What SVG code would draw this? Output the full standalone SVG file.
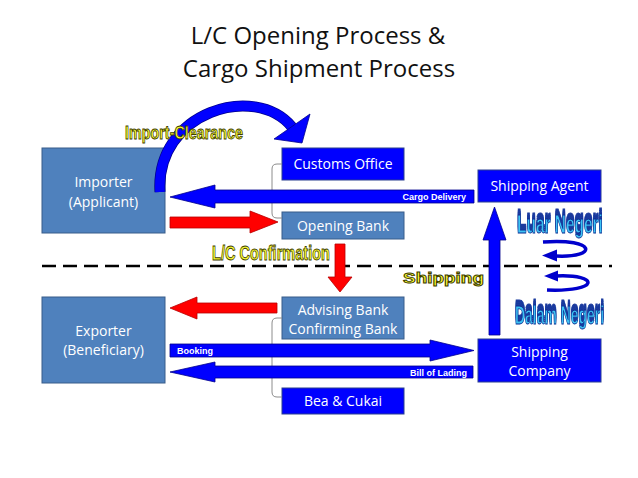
<svg xmlns="http://www.w3.org/2000/svg" width="638" height="478" viewBox="0 0 638 478">
<defs>
<style>
.title{font-family:"Open Sans","Liberation Sans",sans-serif;font-size:24px;fill:#111;text-anchor:middle}
.sb{fill:#4F81BD;stroke:#385D8A;stroke-width:1}
.bb{fill:#0000FF;stroke:#2a3f8f;stroke-width:1}
.lbl{font-family:"Open Sans","Liberation Sans",sans-serif;font-size:14px;fill:#fff;text-anchor:middle}
.ra{fill:#FF0000;stroke:#B80000;stroke-width:0.8}
.ba{fill:#0000FF;stroke:#00008B;stroke-width:0.8}
.sm{font-family:"Liberation Sans",Arial,sans-serif;font-weight:bold;font-size:9px;fill:#fff}
.wa{font-family:"Liberation Sans",Arial,sans-serif;font-weight:bold;font-style:normal;fill:#FFFF33;stroke:#3d3d00;stroke-width:0.9}
.wb{font-family:"Liberation Sans",Arial,sans-serif;font-weight:bold;font-style:normal;font-size:26px;fill:#3ec3f3;stroke:#0a2a90;stroke-width:0.8}
.brk{fill:none;stroke:#8c8c8c;stroke-width:1}
.uturn{fill:none;stroke:#0000CC;stroke-width:3.5}
</style>
<filter id="extr" x="-20%" y="-100%" width="140%" height="300%">
<feFlood flood-color="#1b3a9e" result="c"/>
<feComposite in="c" in2="SourceAlpha" operator="in" result="s"/>
<feOffset in="s" dx="0" dy="-2" result="o1"/>
<feOffset in="s" dx="0" dy="-4" result="o2"/>
<feOffset in="s" dx="0" dy="-6" result="o3"/>
<feMerge><feMergeNode in="o3"/><feMergeNode in="o2"/><feMergeNode in="o1"/><feMergeNode in="SourceGraphic"/></feMerge>
</filter>
</defs>
<rect width="638" height="478" fill="#ffffff"/>

<g id="title">
<text class="title" x="318" y="44">L/C Opening Process &amp;</text>
<text class="title" x="319" y="77">Cargo Shipment Process</text>
</g>

<line id="border-line" x1="42" y1="266" x2="612" y2="266" stroke="#000" stroke-width="2.5" stroke-dasharray="14 7"/>

<g id="importer">
<rect class="sb" x="42" y="148" width="123" height="85"/>
<text class="lbl" x="103.5" y="187">Importer</text>
<text class="lbl" x="103.5" y="207">(Applicant)</text>
</g>

<g id="exporter">
<rect class="sb" x="42" y="297" width="123" height="86"/>
<text class="lbl" x="103.5" y="336">Exporter</text>
<text class="lbl" x="103.5" y="355">(Beneficiary)</text>
</g>

<g id="customs-office">
<rect class="bb" x="282" y="148" width="122" height="32"/>
<text class="lbl" x="343" y="169">Customs Office</text>
</g>

<g id="opening-bank">
<rect class="sb" x="282" y="212" width="122" height="27"/>
<text class="lbl" x="343" y="231">Opening Bank</text>
</g>

<g id="advising-bank">
<rect class="sb" x="282" y="297" width="122" height="42"/>
<text class="lbl" x="343" y="315">Advising Bank</text>
<text class="lbl" x="343" y="334">Confirming Bank</text>
</g>

<g id="bea-cukai">
<rect class="bb" x="282" y="388" width="122" height="26"/>
<text class="lbl" x="343" y="406">Bea &amp; Cukai</text>
</g>

<g id="shipping-agent">
<rect class="bb" x="478" y="170" width="123" height="32"/>
<text class="lbl" x="539.5" y="191">Shipping Agent</text>
</g>

<g id="shipping-company">
<rect class="bb" x="478" y="339" width="123" height="43"/>
<text class="lbl" x="539.5" y="357">Shipping</text>
<text class="lbl" x="539.5" y="376">Company</text>
</g>

<g id="connectors">
<path class="brk" d="M282,164 H277 Q272,164 272,169 V213 Q272,218 277,218 H282"/>
<path class="brk" d="M282,318 H277 Q272,318 272,323 V392 Q272,397 277,397 H282"/>

<path d="M160,192 C155,112 255,82 292,127" fill="none" stroke="#00008B" stroke-width="11"/>
<path d="M160,192 C155,112 255,82 292,127" fill="none" stroke="#0000FF" stroke-width="9.5"/>
<polygon class="ba" points="310,114 302,143 274,139"/>

<polygon class="ba" points="170,197 215,185 215,190 474,190 474,203 215,203 215,208"/>
<text class="sm" x="466" y="200" text-anchor="end">Cargo Delivery</text>

<polygon class="ra" points="170,217 250,217 250,211 278,222 250,233 250,228 170,228"/>

<polygon class="ra" points="335,244 345,244 345,277 352,277 340,292 328,277 335,277"/>

<polygon class="ra" points="170,308 197,297 197,303 277,303 277,313 197,313 197,319"/>

<polygon class="ba" points="170,344 430,344 430,340 474,350.5 430,361 430,357 170,357"/>
<text class="sm" x="177" y="354">Booking</text>

<polygon class="ba" points="170,372 215,362 215,366 473,366 473,378 215,378 215,382"/>
<text class="sm" x="467" y="376" text-anchor="end">Bill of Lading</text>

<polygon class="ba" points="489,335 489,240 483,240 494.5,207 506,240 500,240 500,335"/>

<path class="uturn" d="M543,242 C597,238 598,258 556,256"/>
<polygon fill="#0000CC" points="542,255.5 557,249.5 557,261.5"/>
<path class="uturn" d="M556,276 C600,274 600,292 547,290"/>
<polygon fill="#0000CC" points="544,276 558,270.5 558,281.5"/>

<text class="wa" x="125" y="139" font-size="19" textLength="118" lengthAdjust="spacingAndGlyphs">Import-Clearance</text>
<text class="wa" x="212" y="260" font-size="21" textLength="118" lengthAdjust="spacingAndGlyphs">L/C Confirmation</text>
<text class="wa" x="403" y="283" font-size="15" textLength="81" lengthAdjust="spacingAndGlyphs">Shipping</text>
</g>

<g id="luar-negeri" filter="url(#extr)">
<text class="wb" transform="translate(517,233) scale(0.595,1)" x="0" y="0">Luar Negeri</text>
</g>

<g id="dalam-negeri" filter="url(#extr)">
<text class="wb" transform="translate(515,324) scale(0.536,1)" x="0" y="0">Dalam Negeri</text>
</g>
</svg>
